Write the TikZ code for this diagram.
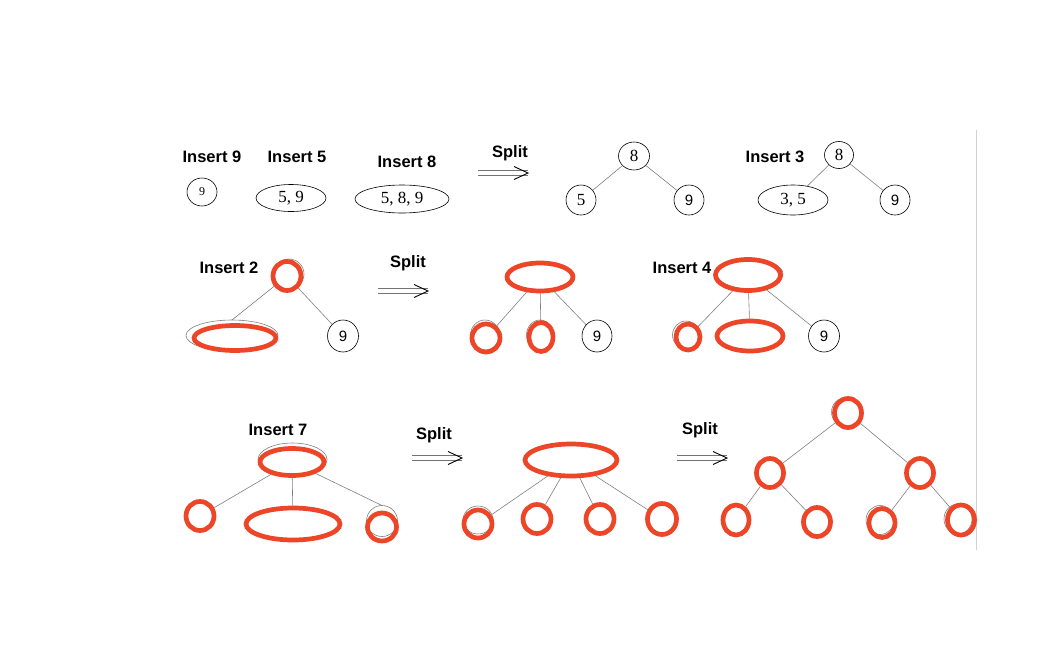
\documentclass[tikz,border=0pt]{standalone}
\usepackage{fontspec}
\setmainfont{Liberation Serif}
\newfontfamily\lsans{Liberation Sans}
\usetikzlibrary{shapes.geometric,backgrounds}
\definecolor{hred}{HTML}{EC4527}
\definecolor{edgegray}{HTML}{808080}
\tikzset{
  lab/.style={font=\lsans\bfseries\fontsize{16.5}{18}\selectfont, inner sep=0pt},
  bn/.style={draw=black, line width=0.6pt, ellipse, inner sep=0pt, font=\fontsize{17}{18}\selectfont},
  sn/.style={bn, font=\lsans\fontsize{15}{16}\selectfont},
  rn/.style={draw=hred, line width=4.7pt, ellipse, inner sep=0pt},
  ghost/.style={draw=gray, line width=0.6pt},
  edge/.style={draw=edgegray, line width=0.6pt},
  vline/.style={draw=black!18, line width=0.8pt},
  arrline/.style={draw=black!55, line width=0.7pt},
  sz/.style 2 args={minimum width=#1pt, minimum height=#2pt},
  splitarrow/.pic={
    \draw[arrline] (0,-2.5) -- (50,-2.5);
    \draw[arrline] (0,2.5) -- (50,2.5);
    \draw[black, line width=0.9pt] (36,-6.5) -- (50,0) -- (36,6.5);
  }
}
\begin{document}
\begin{tikzpicture}[x=1pt,y=-1pt]
\useasboundingbox (0,0) rectangle (1059,667);

% separator line
\coordinate (vt) at (976,130);
\coordinate (vb) at (976,550);
\draw[vline] (vt) -- (vb);

% ---------------- Row 1 ----------------
\node[lab] (li9) at (212,157) {Insert 9};
\node[lab] (li5) at (297,157) {Insert 5};
\node[lab] (li8) at (407,162) {Insert 8};
\node[lab] (ls1) at (510,153) {Split};
\node[lab] (li3) at (775,157) {Insert 3};

\node[bn, sz={30}{28}, font=\fontsize{12}{13}\selectfont] (n9) at (202,192) {9};
\node[bn, sz={70}{27}] (n59) at (291,198) {5, 9};
\node[bn, sz={94}{28}] (n589) at (402,199) {5, 8, 9};
\pic at (478,173) {splitarrow};

\node[bn, sz={31}{28}] (t1r) at (634,156) {8};
\node[bn, sz={30}{30}] (t1a) at (581,200) {5};
\node[sn, sz={30}{30}] (t1b) at (689,200) {9};
\draw[edge] (t1r) -- (t1a);
\draw[edge] (t1r) -- (t1b);

\node[bn, sz={29}{27}] (t2r) at (839,155) {8};
\node[bn, sz={70}{30}] (t2a) at (793,200) {3, 5};
\node[sn, sz={30}{30}] (t2b) at (895,200) {9};
\draw[edge] (t2r) -- (t2a);
\draw[edge] (t2r) -- (t2b);

% ---------------- Row 2 ----------------
\node[lab] (li2) at (229,268) {Insert 2};
\draw[ghost] (289,274) ellipse (15pt and 15pt);
\draw[ghost] (232,335.5) ellipse (46pt and 15.5pt);
\coordinate (g3a) at (232,320);
\node[rn, sz={28}{29}] (r3r) at (287,276) {};
\node[rn, sz={82}{25}] (r3a) at (235,338) {};
\node[sn, sz={31}{32}] (r3b) at (343,336) {9};

\node[lab] (ls2) at (408,263) {Split};
\pic at (378,291) {splitarrow};

\draw[ghost] (485,335) ellipse (14.5pt and 15pt);
\draw[ghost] (540,335) ellipse (13.5pt and 15pt);
\node[rn, sz={66}{28}] (r4r) at (540,277) {};
\node[rn, sz={28}{28}] (r4a) at (486,338) {};
\node[rn, sz={24}{29}] (r4b) at (541,337) {};
\node[sn, sz={30}{32}] (r4c) at (597,336) {9};

\node[lab] (li4) at (682,268) {Insert 4};
\draw[ghost] (750,274) ellipse (33pt and 15pt);
\draw[ghost] (686,335) ellipse (13.5pt and 14pt);
\node[rn, sz={65}{31}] (r5r) at (748,275) {};
\node[rn, sz={24}{26}] (r5a) at (688,337) {};
\node[rn, sz={66}{30}] (r5b) at (750,336) {};
\node[sn, sz={31}{32}] (r5c) at (824,336) {9};

% ---------------- Row 3 ----------------
\node[lab] (li7) at (278,430) {Insert 7};
\draw[ghost] (292.5,459.5) ellipse (34.5pt and 16.5pt);
\draw[ghost] (382,521) ellipse (15.5pt and 15.5pt);
\coordinate (g1c) at (382,505.5);
\node[rn, sz={64}{27}] (s1r) at (292,462) {};
\node[rn, sz={28}{29}] (s1a) at (200,516) {};
\node[rn, sz={94}{32}] (s1b) at (293,524) {};
\node[rn, sz={29}{28}] (s1c) at (382,527) {};

\node[lab] (ls3) at (434,435) {Split};
\pic at (412,458) {splitarrow};

\draw[ghost] (478,520) ellipse (15pt and 14pt);
\node[rn, sz={92}{32}] (s2r) at (571,460) {};
\node[rn, sz={28}{28}] (s2a) at (478,524) {};
\node[rn, sz={28}{29}] (s2b) at (537,519) {};
\node[rn, sz={28}{29}] (s2c) at (600,519) {};
\node[rn, sz={29}{31}] (s2d) at (662,519) {};

\node[lab] (ls4) at (700,430) {Split};
\pic at (677,458) {splitarrow};

\draw[ghost] (846,412) ellipse (14.5pt and 14.5pt);
\draw[ghost] (880,520) ellipse (14pt and 14.5pt);
\draw[ghost] (958,519) ellipse (14pt and 15pt);
\node[rn, sz={27}{29}] (s3r) at (848,413) {};
\node[rn, sz={27}{29}] (s3a) at (770,473) {};
\node[rn, sz={27}{29}] (s3b) at (920,473) {};
\node[rn, sz={26}{30}] (s3c) at (736,520) {};
\node[rn, sz={27}{29}] (s3d) at (817,522) {};
\node[rn, sz={26}{29}] (s3e) at (882,523) {};
\node[rn, sz={27}{30}] (s3f) at (961,520) {};

% ---------------- edges (behind) ----------------
\begin{scope}[on background layer]
\draw[edge] (r3r) -- (g3a);
\draw[edge] (r3r) -- (r3b);
\draw[edge] (r4r) -- (r4a);
\draw[edge] (r4r) -- (r4b);
\draw[edge] (r4r) -- (r4c);
\draw[edge] (r5r) -- (r5a);
\draw[edge] (r5r) -- (r5b);
\draw[edge] (r5r) -- (r5c);
\draw[edge] (s1r) -- (s1a);
\draw[edge] (s1r) -- (s1b);
\draw[edge] (s1r) -- (g1c);
\draw[edge] (s2r) -- (s2a);
\draw[edge] (s2r) -- (s2b);
\draw[edge] (s2r) -- (s2c);
\draw[edge] (s2r) -- (s2d);
\draw[edge] (s3r) -- (s3a);
\draw[edge] (s3r) -- (s3b);
\draw[edge] (s3a) -- (s3c);
\draw[edge] (s3a) -- (s3d);
\draw[edge] (s3b) -- (s3e);
\draw[edge] (s3b) -- (s3f);
\end{scope}
\end{tikzpicture}
\end{document}
